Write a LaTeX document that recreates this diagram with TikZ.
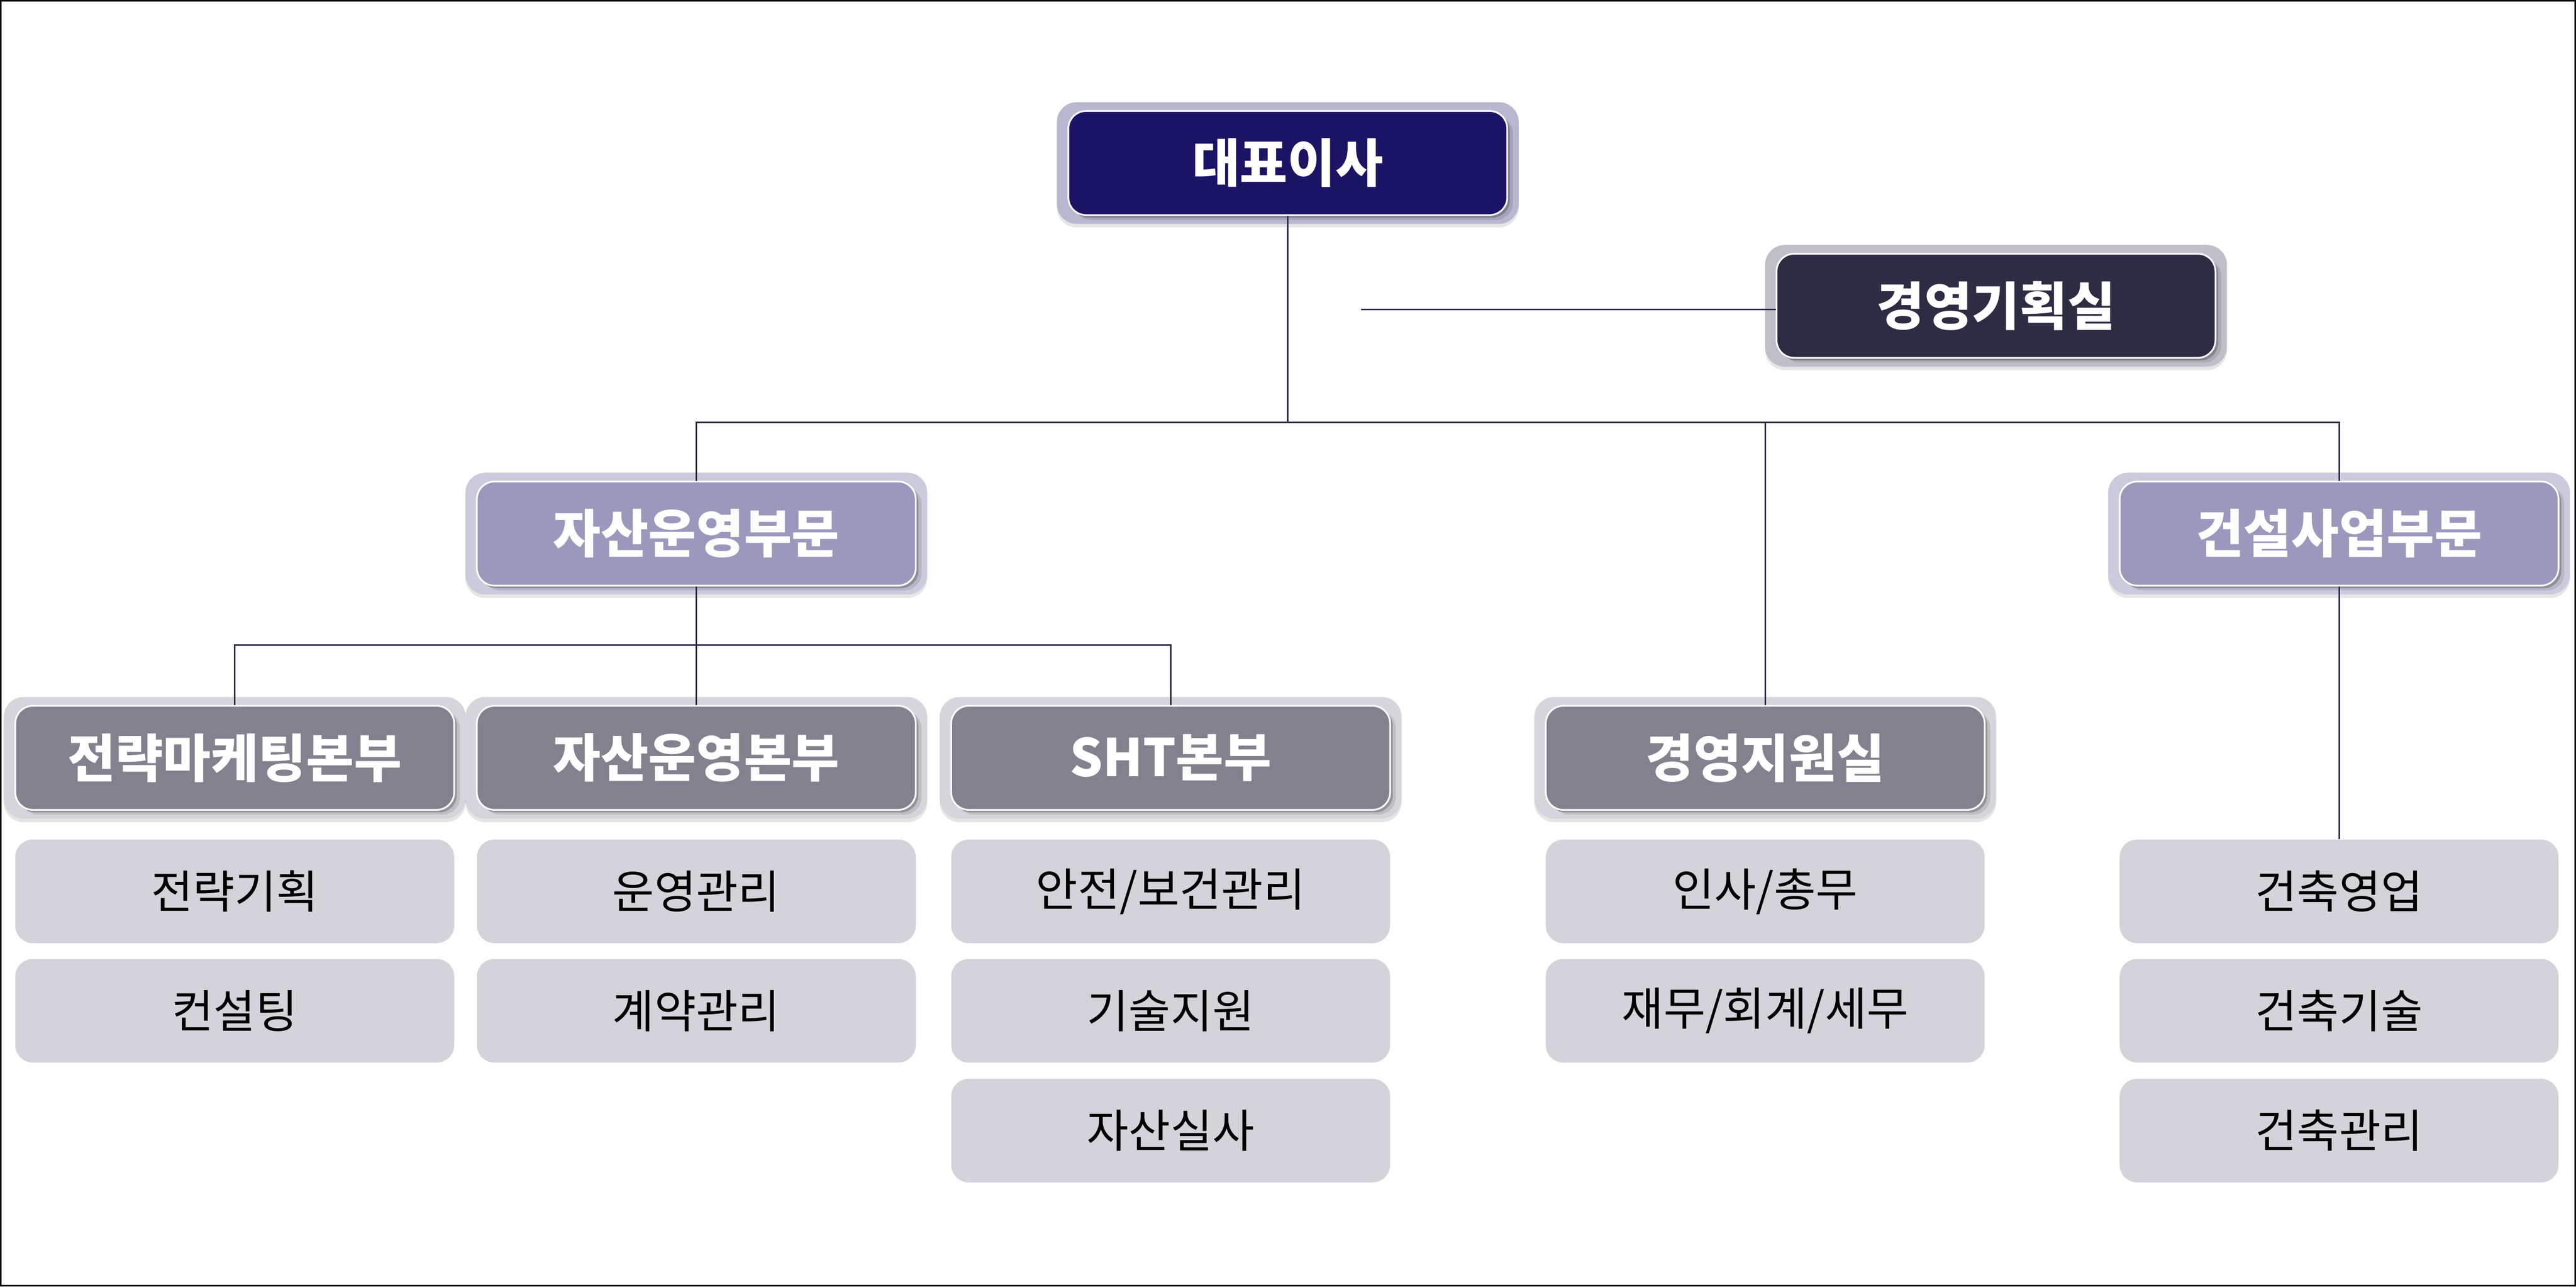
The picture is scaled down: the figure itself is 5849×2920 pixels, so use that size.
\documentclass[tikz,border=0pt]{standalone}
\usepackage{fontspec}
\setmainfont{Noto Sans CJK KR}
\usetikzlibrary{shadows}
\definecolor{ceoC}{HTML}{1B1464}
\definecolor{ceoF}{HTML}{B8B7D0}
\definecolor{planC}{HTML}{2E2C43}
\definecolor{planF}{HTML}{C0BFC7}
\definecolor{divC}{HTML}{9A98BC}
\definecolor{divF}{HTML}{CCCBDD}
\definecolor{deptC}{HTML}{84818F}
\definecolor{deptF}{HTML}{D6D5DB}
\definecolor{subC}{HTML}{D4D3D9}
\definecolor{lineC}{HTML}{2E2B43}
\begin{document}
\begin{tikzpicture}[x=0.01cm,y=-0.01cm,
  boxframe/.style={rounded corners=0.45cm, minimum width=10.48cm, minimum height=2.76cm, inner sep=0pt,
    drop shadow={shadow xshift=0cm, shadow yshift=-0.08cm, fill=black, opacity=0.10}},
  headbox/.style={rounded corners=0.4cm, minimum width=9.96cm, minimum height=2.36cm, inner sep=0pt,
    draw=white, line width=1.1pt, text=white, font=\fontsize{33.5}{38}\selectfont\bfseries,
    drop shadow={shadow xshift=0.13cm, shadow yshift=-0.11cm, fill=black, opacity=0.10},
    drop shadow={shadow xshift=0.06cm, shadow yshift=-0.06cm, fill=black, opacity=0.22}},
  subbox/.style={rounded corners=0.4cm, minimum width=9.96cm, minimum height=2.35cm, inner sep=0pt,
    fill=subC, text=black, font=\fontsize{29.4}{34}\selectfont},
  conn/.style={draw=lineC, line width=1.05pt}]
\useasboundingbox (0,0) rectangle (5849,2920);
\draw[black, line width=1pt] (1.5,1.5) rectangle (5847.5,2918.5);

% frames
\node[boxframe, fill=ceoF]  (ceo-f)  at (2924,370) {};
\node[boxframe, fill=planF] (plan-f) at (4532,694) {};
\node[boxframe, fill=divF]  (div1-f) at (1581,1211) {};
\node[boxframe, fill=divF]  (div2-f) at (5311,1211) {};
\node[boxframe, fill=deptF] (d1-f)   at (533,1720) {};
\node[boxframe, fill=deptF] (d2-f)   at (1581,1720) {};
\node[boxframe, fill=deptF] (d3-f)   at (2658,1720) {};
\node[boxframe, fill=deptF] (sup-f)  at (4008,1720) {};

% header boxes
\node[headbox, fill=ceoC]  (ceo)  at (2924,370) {대표이사};
\node[headbox, fill=planC] (plan) at (4532,694) {경영기획실};
\node[headbox, fill=divC]  (div1) at (1581,1211) {자산운영부문};
\node[headbox, fill=divC]  (div2) at (5311,1211) {건설사업부문};
\node[headbox, fill=deptC] (d1)   at (533,1720) {전략마케팅본부};
\node[headbox, fill=deptC] (d2)   at (1581,1720) {자산운영본부};
\node[headbox, fill=deptC] (d3)   at (2658,1720) {SHT본부};
\node[headbox, fill=deptC] (sup)  at (4008,1720) {경영지원실};

% sub boxes
\node[subbox] (d1a) at (533,2023) {전략기획};
\node[subbox] (d1b) at (533,2294) {컨설팅};
\node[subbox] (d2a) at (1581,2023) {운영관리};
\node[subbox] (d2b) at (1581,2294) {계약관리};
\node[subbox] (d3a) at (2658,2023) {안전/보건관리};
\node[subbox] (d3b) at (2658,2294) {기술지원};
\node[subbox] (d3c) at (2658,2566) {자산실사};
\node[subbox] (supa) at (4008,2023) {인사/총무};
\node[subbox] (supb) at (4008,2294) {재무/회계/세무};
\node[subbox] (c1) at (5311,2023) {건축영업};
\node[subbox] (c2) at (5311,2294) {건축기술};
\node[subbox] (c3) at (5311,2566) {건축관리};

% connectors
\coordinate (busA) at (2924,959);
\coordinate (busB) at (1581,1464);
\coordinate (planStart) at (3091,702);
\draw[conn] (ceo.south) -- (busA);
\draw[conn] (div1.north) |- (busA) -| (div2.north);
\draw[conn] (busA -| sup.north) -- (sup.north);
\draw[conn] (planStart) -- (planStart -| plan.west);
\draw[conn] (div1.south) -- (busB);
\draw[conn] (d1.north) |- (busB) -| (d3.north);
\draw[conn] (busB) -- (d2.north);
\draw[conn] (div2.south) -- (c1.north);
\end{tikzpicture}
\end{document}
